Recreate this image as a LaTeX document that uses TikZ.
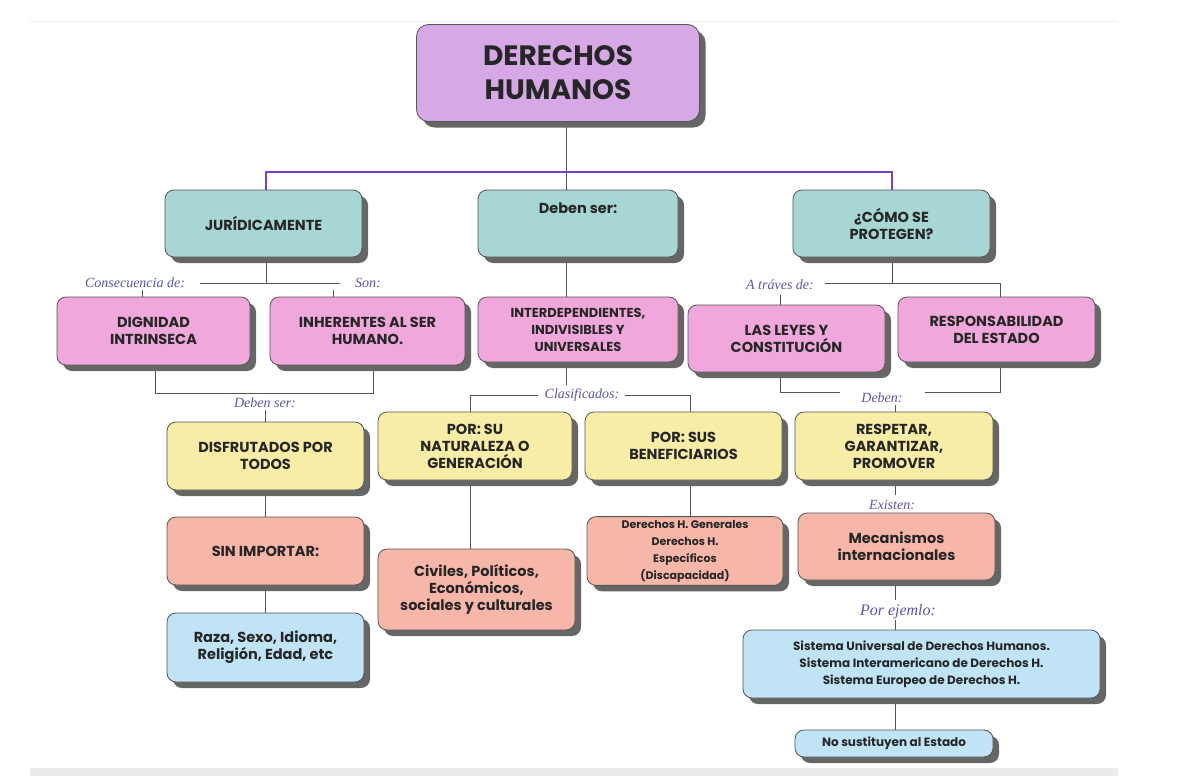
\documentclass[tikz,border=0pt]{standalone}
\usepackage{fontspec}
\setmainfont{Poppins}
\newfontfamily\lblfont{Liberation Serif}
\usetikzlibrary{shadows}
\definecolor{cpurple}{HTML}{D6A8E6}
\definecolor{cteal}{HTML}{A8D6D4}
\definecolor{cpink}{HTML}{F0A8DC}
\definecolor{cyellow}{HTML}{F8EDA6}
\definecolor{csalmon}{HTML}{F7B6AA}
\definecolor{cblue}{HTML}{C0E4F6}
\definecolor{clbl}{HTML}{5A55B0}
\definecolor{cline}{HTML}{555555}
\definecolor{cpl}{HTML}{7A3FD0}
\tikzset{
 box/.style={draw=cline,line width=0.8pt,rounded corners=9pt,align=center,font=\bfseries\fontsize{14.5}{17}\selectfont,text=black!85,
   drop shadow={shadow xshift=6pt,shadow yshift=-6pt,fill=black!60,opacity=1}},
 lbl/.style={font=\lblfont\itshape\fontsize{14}{16}\selectfont,text=clbl,fill=white,inner sep=1pt},
 con/.style={draw=cline,line width=1pt},
}
\newcommand{\bx}[7]{\node[box,fill=#6,minimum width=#3pt-#2pt,minimum height=#5pt-#4pt] (#1) at ({(#2+#3)/2},{(#4+#5)/2}) {#7};}
\begin{document}
\begin{tikzpicture}[x=1pt,y=-1pt]
\useasboundingbox (0,0) rectangle (1200,776);
\draw[black!8,line width=1pt] (30,22) -- (1118,22);
\fill[black!8] (30,768) rectangle (1118,776);
\coordinate (tj) at (566,172);
\draw[con] (566,122) -- (tj);
\draw[cpl,line width=1.4pt] (266,190) -- (266,172) -- (892,172) -- (892,190);
\draw[con] (tj) -- (566,190);
\draw[con] (266,257) -- (266,283);
\draw[con] (200,283) -- (340,283);
\draw[con] (142,290) -- (142,297);
\draw[con] (333,290) -- (333,297);
\draw[con] (155,365) -- (155,393) -- (373,393) -- (373,365);
\draw[con] (265,410) -- (265,422);
\draw[con] (265,490) -- (265,517);
\draw[con] (265,585) -- (265,613);
\draw[con] (566,257) -- (566,297);
\draw[con] (566,362) -- (566,385);
\draw[con] (470,412) -- (470,395) -- (538,395);
\draw[con] (625,395) -- (690,395) -- (690,412);
\draw[con] (470,480) -- (470,549);
\draw[con] (690,480) -- (690,517);
\draw[con] (892,257) -- (892,283);
\draw[con] (825,283) -- (1000,283) -- (1000,297);
\draw[con] (780,295) -- (780,305);
\draw[con] (780,372) -- (780,392) -- (840,392);
\draw[con] (925,392) -- (1000,392) -- (1000,362);
\draw[con] (895,405) -- (895,412);
\draw[con] (895,480) -- (895,495);
\draw[con] (895,580) -- (895,600);
\draw[con] (895,620) -- (895,630);
\draw[con] (895,698) -- (895,730);
\node[box,fill=cpurple,minimum width=283pt,minimum height=97pt,font=\bfseries\fontsize{28}{34}\selectfont,rounded corners=12pt] (title) at (558,73) {DERECHOS\\HUMANOS};
\bx{jur}{165}{362}{190}{257}{cteal}{JURÍDICAMENTE}
\bx{deb}{478}{678}{190}{257}{cteal}{Deben ser:\\[14pt]}
\bx{como}{793}{990}{190}{257}{cteal}{¿CÓMO SE\\PROTEGEN?}
\bx{dig}{57}{250}{297}{365}{cpink}{DIGNIDAD\\INTRINSECA}
\bx{inh}{270}{465}{297}{365}{cpink}{INHERENTES AL SER\\HUMANO.}
\bx{inter}{478}{678}{297}{362}{cpink}{\fontsize{13}{17}\selectfont INTERDEPENDIENTES,\\\fontsize{13}{17}\selectfont INDIVISIBLES Y\\\fontsize{13}{17}\selectfont UNIVERSALES}
\bx{leyes}{688}{885}{305}{372}{cpink}{LAS LEYES Y\\CONSTITUCIÓN}
\bx{resp}{898}{1095}{297}{362}{cpink}{RESPONSABILIDAD\\DEL ESTADO}
\bx{disf}{167}{364}{422}{490}{cyellow}{DISFRUTADOS POR\\TODOS}
\bx{sin}{167}{364}{517}{585}{csalmon}{SIN IMPORTAR:}
\bx{raza}{167}{364}{613}{682}{cblue}{Raza, Sexo, Idioma,\\Religión, Edad, etc}
\bx{nat}{378}{572}{412}{480}{cyellow}{POR: SU\\NATURALEZA O\\GENERACIÓN}
\bx{ben}{585}{782}{412}{480}{cyellow}{POR: SUS\\BENEFICIARIOS}
\bx{civ}{378}{575}{549}{630}{csalmon}{Civiles, Políticos,\\Económicos,\\sociales y culturales}
\bx{gen}{587}{783}{517}{585}{csalmon}{\fontsize{11}{13}\selectfont Derechos H. Generales\\\fontsize{11}{13}\selectfont Derechos H.\\\fontsize{11}{13}\selectfont Específicos\\\fontsize{11}{13}\selectfont (Discapacidad)}
\bx{resp2}{795}{993}{412}{480}{cyellow}{RESPETAR,\\GARANTIZAR,\\PROMOVER}
\bx{mec}{798}{995}{513}{580}{csalmon}{Mecanismos\\internacionales}
\bx{sis}{743}{1100}{630}{698}{cblue}{\fontsize{12}{16}\selectfont Sistema Universal de Derechos Humanos.\\\fontsize{12}{16}\selectfont Sistema Interamericano de Derechos H.\\\fontsize{12}{16}\selectfont Sistema Europeo de Derechos H.}
\bx{nos}{795}{993}{730}{757}{cblue}{\fontsize{12}{14}\selectfont No sustituyen al Estado}
\node[lbl] (l1) at (135,283) {Consecuencia de:};
\node[lbl] (l2) at (368,283) {Son:};
\node[lbl] (l3) at (265,403) {Deben ser:};
\node[lbl] (l4) at (582,395) {Clasificados:};
\node[lbl] (l5) at (780,285) {A tráves de:};
\node[lbl] (l6) at (882,398) {Deben:};
\node[lbl] (l7) at (892,505) {Existen:};
\node[lbl,font=\lblfont\itshape\fontsize{16}{18}\selectfont] (l8) at (898,612) {Por ejemlo:};
\end{tikzpicture}
\end{document}
